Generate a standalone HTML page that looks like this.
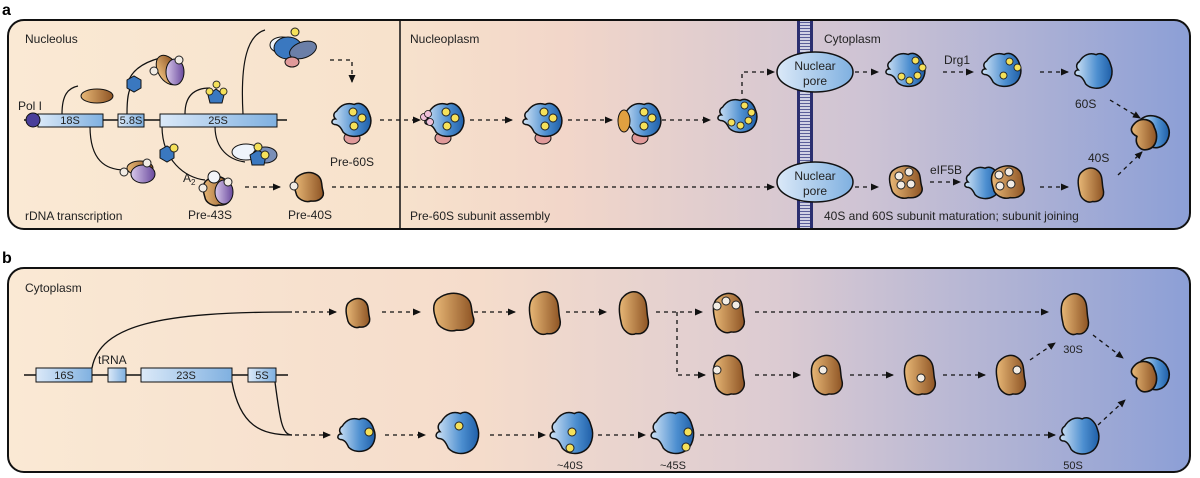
<!DOCTYPE html>
<html><head><meta charset="utf-8"><style>
html,body{margin:0;padding:0;background:#fff;}
svg{display:block;font-family:"Liberation Sans",sans-serif;}
</style></head><body>
<svg width="1200" height="478" viewBox="0 0 1200 478" xmlns="http://www.w3.org/2000/svg">
<defs>
<linearGradient id="ga" x1="0" x2="1" y1="0" y2="0">
<stop offset="0" stop-color="#fae9d4"/><stop offset="0.33" stop-color="#f7e2cc"/>
<stop offset="0.47" stop-color="#f2d6c9"/><stop offset="0.72" stop-color="#cfc4d4"/>
<stop offset="1" stop-color="#8c9fd6"/></linearGradient>
<linearGradient id="gb" x1="0" x2="1" y1="0" y2="0">
<stop offset="0" stop-color="#fae9d4"/><stop offset="0.4" stop-color="#f5dccb"/>
<stop offset="0.65" stop-color="#dccbd2"/><stop offset="1" stop-color="#8c9fd6"/></linearGradient>
<linearGradient id="bl" x1="0" x2="1"><stop offset="0" stop-color="#cfe2f5"/><stop offset="0.6" stop-color="#4d8fd0"/><stop offset="1" stop-color="#1f5fa8"/></linearGradient>
<linearGradient id="br" x1="0" x2="1"><stop offset="0" stop-color="#e8b877"/><stop offset="1" stop-color="#8e5424"/></linearGradient>
<linearGradient id="bx" x1="0" x2="1"><stop offset="0" stop-color="#dbe9f8"/><stop offset="1" stop-color="#7fb0e0"/></linearGradient>
<linearGradient id="pu" x1="0" x2="1"><stop offset="0" stop-color="#d8c8ea"/><stop offset="1" stop-color="#6a4a9e"/></linearGradient>
<marker id="ar" markerWidth="8" markerHeight="8" refX="7" refY="4" orient="auto" markerUnits="userSpaceOnUse"><path d="M0,0.5 L8,4 L0,7.5z" fill="#111"/></marker>
<symbol id="blue" viewBox="-20 -18 40 36" preserveAspectRatio="none" overflow="visible"><path d="M-14,-8 C-10,-14 -4,-16 2,-14 C8,-17 14,-12 16,-5 C19,2 16,10 10,13 C4,16 -4,15 -8,11 C-10,7 -12,4 -16,4 C-20,3 -18,-1 -15,-1 C-18,-4 -16,-7 -14,-8z" fill="url(#bl)" stroke="#111" stroke-width="1.5" vector-effect="non-scaling-stroke"/></symbol>
<symbol id="brown" viewBox="-16 -17 32 34" preserveAspectRatio="none" overflow="visible"><path d="M-12,-10 C-6,-15 2,-16 8,-12 C14,-8 12,-2 14,4 C16,10 10,15 2,14 C-4,16 -12,12 -13,6 C-15,0 -16,-6 -12,-10z" fill="url(#br)" stroke="#111" stroke-width="1.5" vector-effect="non-scaling-stroke"/></symbol>
<symbol id="ribo" viewBox="-22 -20 44 40" overflow="visible"><path d="M-8,-12 C0,-18 12,-14 16,-6 C20,2 16,12 8,14 C0,16 -6,10 -6,2 C-6,-6 -10,-8 -8,-12z" fill="url(#bl)" stroke="#111" stroke-width="1.5"/><path d="M-14,-8 C-8,-14 2,-12 4,-4 C8,4 6,14 -2,16 C-10,18 -14,10 -12,4 C-16,2 -20,-2 -14,-8z" fill="url(#br)" stroke="#111" stroke-width="1.5"/></symbol>
<symbol id="yd" viewBox="-4 -4 8 8" overflow="visible"><circle r="4" fill="#f5e15a" stroke="#222" stroke-width="1"/></symbol>
<symbol id="wd" viewBox="-4 -4 8 8" overflow="visible"><circle r="4" fill="#f2ece4" stroke="#222" stroke-width="1"/></symbol>
<pattern id="mem" width="6" height="3" patternUnits="userSpaceOnUse"><rect width="6" height="3" fill="#d0d2e4"/><rect x="0" y="1" width="6" height="1" fill="#5a5f98"/></pattern>
</defs>

<!-- Panel a -->
<text x="2" y="15" font-size="16" font-weight="bold">a</text>
<rect x="8" y="20" width="1182" height="209" rx="16" fill="url(#ga)" stroke="#111" stroke-width="2"/>
<line x1="400" y1="20" x2="400" y2="229" stroke="#111" stroke-width="1.5"/>
<rect x="797" y="21" width="16" height="207" fill="url(#mem)"/>
<rect x="797" y="21" width="3" height="207" fill="#2b2f70"/><rect x="810" y="21" width="3" height="207" fill="#2b2f70"/>
<g font-size="12" fill="#222">
<text x="25" y="43">Nucleolus</text><text x="25" y="220">rDNA transcription</text>
<text x="410" y="43">Nucleoplasm</text><text x="410" y="220">Pre-60S subunit assembly</text>
<text x="824" y="43">Cytoplasm</text><text x="824" y="220">40S and 60S subunit maturation; subunit joining</text>
<text x="18" y="110">Pol I</text>
<text x="330" y="166">Pre-60S</text><text x="188" y="219">Pre-43S</text><text x="288" y="219">Pre-40S</text>
<text x="183" y="182">A</text><text x="191" y="185" font-size="8">2</text>
<text x="944" y="64">Drg1</text><text x="1075" y="108">60S</text>
<text x="930" y="174">eIF5B</text><text x="1088" y="162">40S</text>
</g>
<!-- rDNA -->
<line x1="24" y1="120" x2="287" y2="120" stroke="#111" stroke-width="1.5"/>
<g stroke="#111" stroke-width="1.2" fill="none">
<path d="M62,114 C62,95 68,88 78,86"/><path d="M127,114 C127,100 128,90 132,86"/>
<path d="M90,126 C90,160 105,170 125,170"/><path d="M162,126 C162,160 185,178 205,180"/>
<path d="M185,114 C185,95 195,88 210,88"/><path d="M243,114 C240,60 248,35 265,30"/>
<path d="M215,126 C215,150 230,160 245,162"/><path d="M127,86 C130,70 145,62 160,58"/>
</g>
<rect x="38" y="114" width="65" height="13" fill="url(#bx)" stroke="#111"/>
<rect x="118" y="114" width="26" height="13" fill="url(#bx)" stroke="#111"/>
<rect x="160" y="114" width="117" height="13" fill="url(#bx)" stroke="#111"/>
<g font-size="11" fill="#222" text-anchor="middle"><text x="70" y="124">18S</text><text x="131" y="124">5.8S</text><text x="218" y="124">25S</text></g>
<circle cx="33" cy="120" r="7" fill="#4a3f9a" stroke="#111"/>
<ellipse cx="97" cy="96" rx="16" ry="7" fill="url(#br)" stroke="#111"/>
<polygon points="127,80 134,76 141,80 141,88 134,92 127,88" fill="#3a78c0" stroke="#111"/>
<ellipse cx="168" cy="70" rx="10" ry="16" fill="url(#br)" stroke="#111" transform="rotate(-30 168 70)"/>
<ellipse cx="175" cy="72" rx="9" ry="13" fill="url(#pu)" stroke="#111"/>
<use href="#wd" x="150" y="67" width="8" height="8"/><use href="#wd" x="175" y="56" width="8" height="8"/>
<ellipse cx="140" cy="168" rx="13" ry="7" fill="url(#br)" stroke="#111"/>
<ellipse cx="143" cy="174" rx="12" ry="9" fill="url(#pu)" stroke="#111"/>
<use href="#wd" x="120" y="168" width="8" height="8"/><use href="#wd" x="143" y="159" width="8" height="8"/>
<polygon points="160,150 167,146 174,150 174,158 167,162 160,158" fill="#3a78c0" stroke="#111"/>
<use href="#yd" x="170" y="144" width="8" height="8"/>
<polygon points="208,95 216,89 224,95 222,103 210,103" fill="#3a78c0" stroke="#111"/>
<use href="#yd" x="206" y="88" width="7" height="7"/><use href="#yd" x="213" y="81" width="7" height="7"/><use href="#yd" x="220" y="88" width="7" height="7"/>
<ellipse cx="246" cy="152" rx="14" ry="8" fill="#eef4fb" stroke="#111"/>
<ellipse cx="265" cy="155" rx="12" ry="8" fill="#7a8fb8" stroke="#111"/>
<polygon points="250,155 258,150 266,155 264,165 252,165" fill="#3a78c0" stroke="#111"/>
<use href="#yd" x="254" y="143" width="8" height="8"/><use href="#yd" x="261" y="151" width="8" height="8"/>
<ellipse cx="282" cy="45" rx="12" ry="8" fill="#eef4fb" stroke="#111"/>
<ellipse cx="288" cy="48" rx="14" ry="11" fill="#3a78c0" stroke="#111"/>
<ellipse cx="303" cy="50" rx="14" ry="8" fill="#6b7fa8" stroke="#111" transform="rotate(-20 303 50)"/>
<ellipse cx="292" cy="62" rx="7" ry="5" fill="#e09a9a" stroke="#111"/>
<use href="#yd" x="291" y="28" width="8" height="8"/>
<!-- Pre-43S -->
<use href="#brown" x="202" y="174" width="30" height="34"/>
<ellipse cx="224" cy="192" rx="9" ry="12" fill="url(#pu)" stroke="#111"/>
<circle cx="214" cy="177" r="6" fill="#f2f4f8" stroke="#111"/>
<use href="#wd" x="199" y="184" width="8" height="8"/><use href="#wd" x="224" y="178" width="8" height="8"/>
<use href="#brown" x="293" y="170" width="32" height="34"/><use href="#wd" x="290" y="182" width="8" height="8"/>
<!-- pre-60S chain -->
<g>
<ellipse cx="352" cy="138" rx="8" ry="6" fill="#e09a9a" stroke="#111"/>
<use href="#blue" x="330" y="100" width="44" height="40"/>
<use href="#yd" x="349" y="108" width="8" height="8"/><use href="#yd" x="358" y="114" width="8" height="8"/><use href="#yd" x="350" y="122" width="8" height="8"/>
</g>
<g>
<ellipse cx="443" cy="138" rx="8" ry="6" fill="#e09a9a" stroke="#111"/>
<use href="#blue" x="423" y="100" width="44" height="40"/>
<use href="#yd" x="442" y="108" width="8" height="8"/><use href="#yd" x="451" y="114" width="8" height="8"/><use href="#yd" x="443" y="122" width="8" height="8"/>
<circle cx="424" cy="117" r="3.5" fill="#f0c0d8" stroke="#111" stroke-width=".8"/><circle cx="430" cy="122" r="3.5" fill="#f0c0d8" stroke="#111" stroke-width=".8"/><circle cx="428" cy="114" r="3.5" fill="#f0c0d8" stroke="#111" stroke-width=".8"/>
</g>
<g>
<ellipse cx="543" cy="138" rx="8" ry="6" fill="#e09a9a" stroke="#111"/>
<use href="#blue" x="521" y="100" width="44" height="40"/>
<use href="#yd" x="540" y="108" width="8" height="8"/><use href="#yd" x="549" y="114" width="8" height="8"/><use href="#yd" x="541" y="122" width="8" height="8"/>
</g>
<g>
<ellipse cx="640" cy="138" rx="8" ry="6" fill="#e09a9a" stroke="#111"/>
<use href="#blue" x="620" y="100" width="44" height="40"/>
<ellipse cx="624" cy="121" rx="6" ry="11" fill="#e0a040" stroke="#111"/>
<use href="#yd" x="640" y="108" width="8" height="8"/><use href="#yd" x="648" y="114" width="8" height="8"/><use href="#yd" x="640" y="122" width="8" height="8"/>
</g>
<g>
<use href="#blue" x="716" y="96" width="44" height="40"/>
<use href="#yd" x="741" y="102" width="7" height="7"/><use href="#yd" x="748" y="109" width="7" height="7"/><use href="#yd" x="745" y="117" width="7" height="7"/><use href="#yd" x="737" y="122" width="7" height="7"/><use href="#yd" x="728" y="119" width="7" height="7"/>
</g>
<!-- arrows panel a -->
<g stroke="#111" stroke-width="1.3" stroke-dasharray="4,4" fill="none" marker-end="url(#ar)">
<path d="M330,60 H352 V82"/>
<line x1="380" y1="120" x2="420" y2="120"/><line x1="470" y1="120" x2="512" y2="120"/>
<line x1="568" y1="120" x2="612" y2="120"/><line x1="662" y1="120" x2="710" y2="120"/>
<path d="M742,94 V72 H774"/>
<line x1="245" y1="187" x2="280" y2="187"/><line x1="332" y1="187" x2="774" y2="187"/>
<line x1="855" y1="72" x2="878" y2="72"/><line x1="943" y1="72" x2="973" y2="72"/>
<line x1="1040" y1="72" x2="1068" y2="72"/><line x1="1110" y1="100" x2="1140" y2="118"/>
<line x1="855" y1="187" x2="878" y2="187"/><line x1="930" y1="182" x2="960" y2="182"/>
<line x1="1040" y1="187" x2="1068" y2="187"/><line x1="1118" y1="175" x2="1142" y2="152"/>
</g>
<ellipse cx="815" cy="72" rx="38" ry="20" fill="url(#bx)" stroke="#111" stroke-width="1.5"/>
<ellipse cx="815" cy="182" rx="38" ry="20" fill="url(#bx)" stroke="#111" stroke-width="1.5"/>
<g font-size="12" fill="#222" text-anchor="middle"><text x="815" y="70">Nuclear</text><text x="815" y="85">pore</text><text x="815" y="180">Nuclear</text><text x="815" y="195">pore</text></g>
<use href="#blue" x="884" y="50" width="44" height="40"/>
<use href="#yd" x="912" y="57" width="7" height="7"/><use href="#yd" x="919" y="64" width="7" height="7"/><use href="#yd" x="914" y="72" width="7" height="7"/><use href="#yd" x="906" y="77" width="7" height="7"/><use href="#yd" x="898" y="73" width="7" height="7"/>
<use href="#blue" x="980" y="50" width="44" height="40"/>
<use href="#yd" x="1006" y="58" width="7" height="7"/><use href="#yd" x="1014" y="64" width="7" height="7"/><use href="#yd" x="1000" y="72" width="7" height="7"/>
<use href="#blue" x="1073" y="50" width="42" height="42"/>
<use href="#ribo" x="1126" y="110" width="48" height="44"/>
<use href="#brown" x="888" y="163" width="36" height="38"/>
<use href="#wd" x="895" y="172" width="8" height="8"/><use href="#wd" x="905" y="168" width="8" height="8"/><use href="#wd" x="897" y="181" width="8" height="8"/><use href="#wd" x="907" y="180" width="8" height="8"/>
<use href="#blue" x="963" y="164" width="40" height="38"/><use href="#brown" x="990" y="163" width="36" height="38"/>
<use href="#wd" x="995" y="171" width="8" height="8"/><use href="#wd" x="1005" y="168" width="8" height="8"/><use href="#wd" x="996" y="182" width="8" height="8"/><use href="#wd" x="1007" y="180" width="8" height="8"/>
<use href="#brown" x="1077" y="165" width="28" height="40"/>

<!-- Panel b -->
<text x="2" y="263" font-size="16" font-weight="bold">b</text>
<rect x="8" y="268" width="1182" height="204" rx="16" fill="url(#gb)" stroke="#111" stroke-width="2"/>
<text x="25" y="292" font-size="12" fill="#222">Cytoplasm</text>
<line x1="24" y1="375" x2="288" y2="375" stroke="#111" stroke-width="1.5"/>
<g stroke="#111" stroke-width="1.3" fill="none">
<path d="M92,368 C100,325 160,312 292,312"/>
<path d="M232,382 C240,425 260,435 292,435"/><path d="M275,382 C280,420 282,435 292,435"/>
</g>
<rect x="36" y="368" width="56" height="14" fill="url(#bx)" stroke="#111"/>
<rect x="108" y="368" width="18" height="14" fill="url(#bx)" stroke="#111"/>
<rect x="141" y="368" width="91" height="14" fill="url(#bx)" stroke="#111"/>
<rect x="248" y="368" width="28" height="14" fill="url(#bx)" stroke="#111"/>
<g font-size="11" fill="#222" text-anchor="middle"><text x="64" y="379">16S</text><text x="186" y="379">23S</text><text x="262" y="379">5S</text></g>
<text x="98" y="364" font-size="12" fill="#222">tRNA</text>
<g font-size="11" fill="#222" text-anchor="middle"><text x="1073" y="353">30S</text><text x="1073" y="469">50S</text><text x="570" y="469">~40S</text><text x="673" y="469">~45S</text></g>
<g stroke="#111" stroke-width="1.3" stroke-dasharray="4,4" fill="none" marker-end="url(#ar)">
<line x1="295" y1="312" x2="336" y2="312"/><line x1="382" y1="312" x2="420" y2="312"/>
<line x1="474" y1="312" x2="515" y2="312"/><line x1="566" y1="312" x2="606" y2="312"/>
<line x1="656" y1="312" x2="702" y2="312"/><line x1="755" y1="312" x2="1048" y2="312"/>
<path d="M677,312 V375 H705" marker-end="url(#ar)"/>
<line x1="755" y1="375" x2="800" y2="375"/><line x1="850" y1="375" x2="893" y2="375"/>
<line x1="943" y1="375" x2="985" y2="375"/><line x1="1030" y1="360" x2="1055" y2="343"/>
<line x1="1093" y1="335" x2="1123" y2="358"/>
<line x1="295" y1="435" x2="330" y2="435"/><line x1="385" y1="435" x2="425" y2="435"/>
<line x1="490" y1="435" x2="545" y2="435"/><line x1="598" y1="435" x2="645" y2="435"/>
<line x1="700" y1="435" x2="1055" y2="435"/><line x1="1098" y1="425" x2="1125" y2="400"/>
</g>
<use href="#brown" x="345" y="296" width="26" height="34"/>
<use href="#brown" x="432" y="290" width="44" height="44"/>
<use href="#brown" x="528" y="288" width="34" height="50"/>
<use href="#brown" x="618" y="288" width="32" height="50"/>
<use href="#brown" x="712" y="290" width="34" height="46"/>
<use href="#wd" x="713" y="302" width="8" height="8"/><use href="#wd" x="722" y="297" width="8" height="8"/><use href="#wd" x="732" y="301" width="8" height="8"/>
<use href="#brown" x="712" y="352" width="34" height="46"/><use href="#wd" x="713" y="366" width="8" height="8"/>
<use href="#brown" x="810" y="352" width="34" height="46"/><use href="#wd" x="819" y="366" width="8" height="8"/>
<use href="#brown" x="903" y="352" width="34" height="46"/><use href="#wd" x="917" y="374" width="8" height="8"/>
<use href="#brown" x="995" y="352" width="32" height="46"/><use href="#wd" x="1013" y="366" width="8" height="8"/>
<use href="#brown" x="1060" y="290" width="30" height="48"/>
<use href="#ribo" x="1126" y="352" width="48" height="44"/>
<use href="#blue" x="336" y="415" width="42" height="40"/><use href="#yd" x="365" y="428" width="8" height="8"/>
<use href="#blue" x="434" y="408" width="48" height="50"/><use href="#yd" x="455" y="422" width="8" height="8"/>
<use href="#blue" x="548" y="408" width="48" height="50"/><use href="#yd" x="568" y="428" width="8" height="8"/><use href="#yd" x="566" y="444" width="8" height="8"/>
<use href="#blue" x="649" y="408" width="48" height="50"/><use href="#yd" x="684" y="428" width="8" height="8"/><use href="#yd" x="682" y="443" width="8" height="8"/>
<use href="#blue" x="1058" y="414" width="44" height="44"/>
</svg>
</body></html>
